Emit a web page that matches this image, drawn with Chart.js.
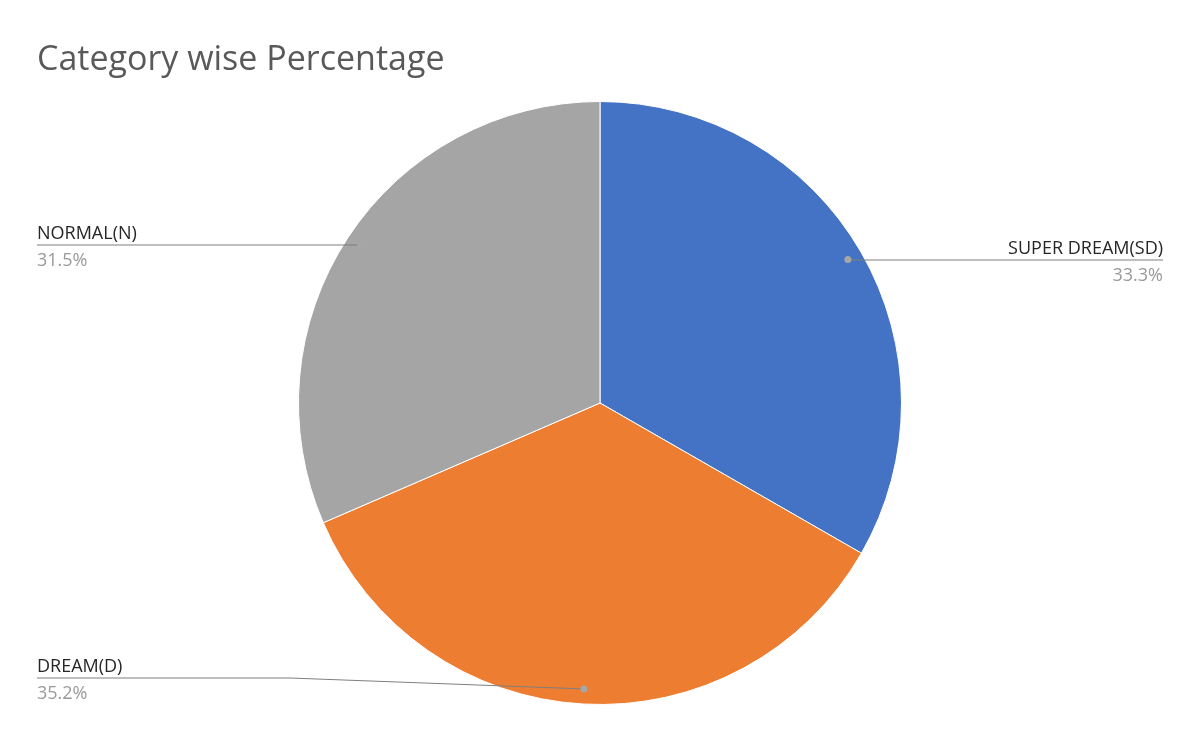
<!DOCTYPE html>
<html>
<head>
<meta charset="utf-8">
<script src="https://cdn.jsdelivr.net/npm/chart.js@4"></script>
<style>
  html, body { margin: 0; padding: 0; background: #fff; }
  #wrap { width: 1200px; height: 742px; }
</style>
</head>
<body>
<div id="wrap"><canvas id="myChart" width="1200" height="742"></canvas></div>
<script>
const chartTitle = 'Category wise Percentage';
const categories = ['SUPER DREAM(SD)', 'DREAM(D)', 'NORMAL(N)'];
const values = [33.3, 35.2, 31.5];
const colors = ['#4472C4', '#ED7D31', '#A5A5A5'];

// 吹き出しラベルの配置 (ラベル側の端点)
const labelSpots = [
    { x: 1163, y: 260, align: 'right' },
    { x: 37, y: 678, align: 'left', bendX: 290 },
    { x: 37, y: 245, align: 'left' }
];

const calloutPlugin = {
    id: 'callout',
    afterDraw(chart) {
        const ctx = chart.ctx;
        ctx.save();
        // タイトル
        ctx.fillStyle = '#595959';
        ctx.font = '34px "Open Sans", "Liberation Sans", sans-serif';
        ctx.textBaseline = 'alphabetic';
        ctx.textAlign = 'left';
        ctx.fillText(chartTitle, 37, 70);

        const arcs = chart.getDatasetMeta(0).data;
        arcs.forEach((arc, i) => {
            const mid = (arc.startAngle + arc.endAngle) / 2;
            const r = arc.outerRadius * 0.95;
            const px = arc.x + Math.cos(mid) * r;
            const py = arc.y + Math.sin(mid) * r;
            const s = labelSpots[i];
            ctx.strokeStyle = '#7f7f7f';
            ctx.lineWidth = 1;
            ctx.beginPath();
            ctx.moveTo(px, py);
            if (s.bendX !== undefined) {
                ctx.lineTo(s.bendX, s.y);
            } else {
                ctx.lineTo(px, s.y);
            }
            ctx.lineTo(s.x, s.y);
            ctx.stroke();
            ctx.fillStyle = '#a6a6a6';
            ctx.beginPath();
            ctx.arc(px, py, 3.5, 0, Math.PI * 2);
            ctx.fill();

            ctx.textAlign = s.align;
            ctx.font = '18px "Open Sans", "Liberation Sans", sans-serif';
            ctx.fillStyle = '#262626';
            ctx.fillText(categories[i], s.x, s.y - 6);
            ctx.fillStyle = '#9a9a9a';
            ctx.fillText(values[i].toFixed(1) + '%', s.x, s.y + 21);
        });
        ctx.restore();
    }
};

new Chart(document.getElementById('myChart').getContext('2d'), {
    type: 'pie',
    data: {
        labels: categories,
        datasets: [{
            data: values,
            backgroundColor: colors,
            borderColor: '#ffffff',
            borderWidth: 1
        }]
    },
    options: {
        responsive: false,
        animation: false,
        layout: { padding: { top: 101, bottom: 37, left: 0, right: 0 } },
        plugins: {
            legend: { display: false },
            tooltip: { enabled: false },
            title: { display: false }
        }
    },
    plugins: [calloutPlugin]
});
</script>
</body>
</html>
